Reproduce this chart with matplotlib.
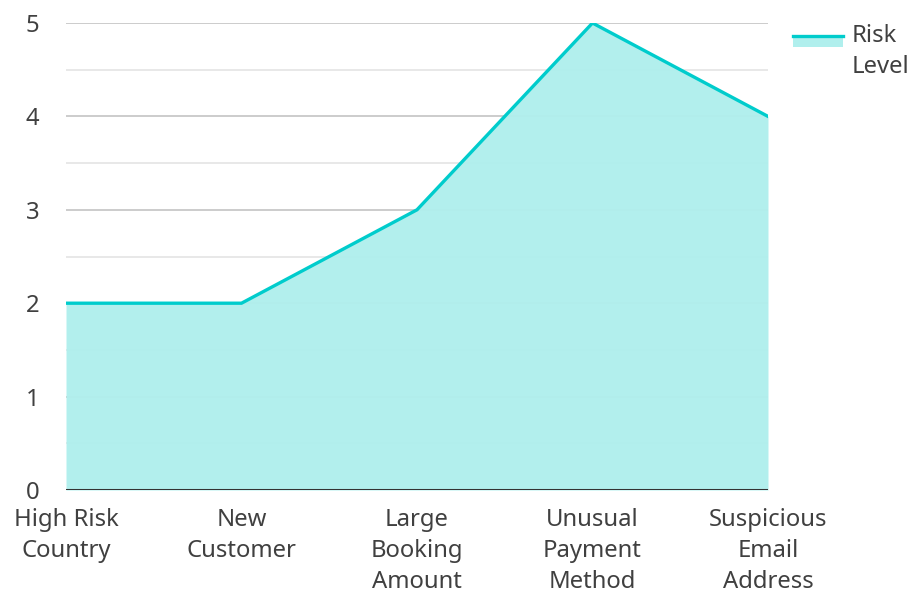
import matplotlib.pyplot as plt
from matplotlib.patches import Rectangle
from matplotlib.lines import Line2D

plt.rcParams['font.family'] = ['Noto Sans', 'DejaVu Sans']

categories = ["High Risk\nCountry", "New\nCustomer", "Large\nBooking\nAmount",
              "Unusual\nPayment\nMethod", "Suspicious\nEmail\nAddress"]
risk_level = [2, 2, 3, 5, 4]
yticks = [0, 1, 2, 3, 4, 5]

line_color = "#00cccc"
fill_color = "#b0efed"
text_color = "#404040"
fs = 17.2

fig = plt.figure(figsize=(9.1, 5.93), dpi=100)
ax = fig.add_axes([66 / 910, 103 / 593, 702 / 910, 467 / 593])

x = list(range(len(categories)))
ax.fill_between(x, 0, risk_level, color=fill_color, alpha=0.97, lw=0, zorder=2)
ax.plot(x, risk_level, color=line_color, lw=2.4, zorder=3, solid_joinstyle='miter')

ax.set_xlim(0, len(categories) - 1)
ax.set_ylim(0, 5)

# grid: integer lines darker, half steps lighter
for v in yticks[1:]:
    ax.axhline(v, color="#c8c8c8", lw=1.3, zorder=1)
for v in [0.5, 1.5, 2.5, 3.5, 4.5]:
    ax.axhline(v, color="#e6e6e6", lw=1.3, zorder=1)
ax.axhline(0, color="#333333", lw=2.2, zorder=4)

ax.set_yticks(yticks)
ax.set_yticklabels([str(v) for v in yticks])
ax.set_xticks(x)
ax.set_xticklabels(categories, linespacing=1.4)
ax.tick_params(axis='y', length=0, pad=24, labelsize=fs, labelcolor=text_color)
ax.tick_params(axis='x', length=0, pad=13, labelsize=fs, labelcolor=text_color)
for lbl in ax.get_yticklabels():
    lbl.set_horizontalalignment('center')
for s in ax.spines.values():
    s.set_visible(False)

# legend drawn by hand
fig.add_artist(Rectangle((793 / 910, 1 - 47 / 593), 50 / 910, 12 / 593,
                         transform=fig.transFigure, color=fill_color, lw=0))
fig.add_artist(Line2D([793 / 910, 843 / 910], [1 - 36 / 593, 1 - 36 / 593],
                      transform=fig.transFigure, color=line_color, lw=2.4))
fig.text(852 / 910, 1 - 36 / 593, "Risk", fontsize=fs, color=text_color,
         ha='left', va='center')
fig.text(852 / 910, 1 - 67 / 593, "Level", fontsize=fs, color=text_color,
         ha='left', va='center')

fig.savefig("out.png", dpi=100)
